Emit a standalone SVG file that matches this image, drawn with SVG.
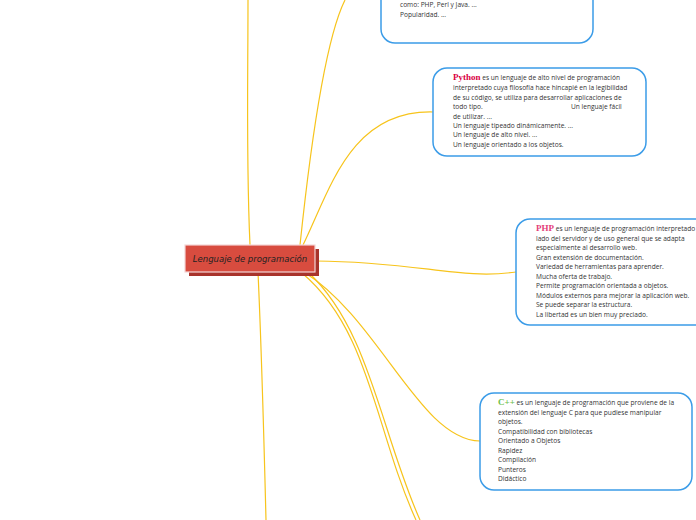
<svg xmlns="http://www.w3.org/2000/svg" width="696" height="520" viewBox="0 0 696 520">
<style>
.c{fill:none;stroke:#f7c41c;stroke-width:1.2}
.b{fill:#fff;stroke:#3b9ce8;stroke-width:1.5}
.t{font-family:"Open Sans","DejaVu Sans",sans-serif;font-size:6.6px;fill:#333}
.k{font-family:"Liberation Serif",serif;font-weight:bold;font-size:9px}
</style>
<rect width="696" height="520" fill="#fff"/>
<g id="connectors">
<path class="c" d="M250 245 C246 160 248 80 248 0"/>
<path class="c" d="M300 245 C310 150 325 40 345 0"/>
<path class="c" d="M303 245 C330 190 350 110 433 112"/>
<path class="c" d="M316 261 C420 262 460 280 516 272"/>
<path class="c" d="M304 272 C380 320 420 440 480 441"/>
<path class="c" d="M308 272 C370 330 380 430 420 520"/>
<path class="c" d="M302 273 C370 330 375 430 416 520"/>
<path class="c" d="M258 272 C262 360 264 440 266 520"/>
</g>
<g id="center">
<rect x="189" y="249" width="130" height="27" fill="#a8332b"/>
<rect x="185" y="245" width="130" height="27" fill="#d84c3f" stroke="#f4d6d6" stroke-width="1.2"/>
<text x="250" y="262" text-anchor="middle" font-family="'DejaVu Sans',sans-serif" font-style="italic" font-size="8.5" fill="#222">Lenguaje de programación</text>
</g>
<g id="top">
<rect class="b" x="381" y="-20" width="212" height="63" rx="14"/>
<text class="t" x="400" y="7">como: PHP, Perl y Java. ...</text>
<text class="t" x="400" y="17">Popularidad. ...</text>
</g>
<g id="python">
<rect class="b" x="433" y="68" width="213" height="88" rx="14"/>
<text class="t" x="453" y="80"><tspan class="k" fill="#d9003f">Python</tspan> es un lenguaje de alto nivel de programación</text>
<text class="t" x="453" y="90">interpretado cuya filosofía hace hincapié en la legibilidad</text>
<text class="t" x="453" y="100">de su código, se utiliza para desarrollar aplicaciones de</text>
<text class="t" x="453" y="109">todo tipo.<tspan x="571">Un lenguaje fácil</tspan></text>
<text class="t" x="453" y="119">de utilizar. ...</text>
<text class="t" x="453" y="128">Un lenguaje tipeado dinámicamente. ...</text>
<text class="t" x="453" y="137">Un lenguaje de alto nivel. ...</text>
<text class="t" x="453" y="147">Un lenguaje orientado a los objetos.</text>
</g>
<g id="php">
<rect class="b" x="516" y="219" width="195" height="106" rx="14"/>
<text class="t" x="536" y="231"><tspan class="k" fill="#e4407a">PHP</tspan> es un lenguaje de programación interpretado</text>
<text class="t" x="536" y="241">lado del servidor y de uso general que se adapta</text>
<text class="t" x="536" y="250">especialmente al desarrollo web.</text>
<text class="t" x="536" y="260">Gran extensión de documentación.</text>
<text class="t" x="536" y="269">Variedad de herramientas para aprender.</text>
<text class="t" x="536" y="279">Mucha oferta de trabajo.</text>
<text class="t" x="536" y="288">Permite programación orientada a objetos.</text>
<text class="t" x="536" y="298">Módulos externos para mejorar la aplicación web.</text>
<text class="t" x="536" y="307">Se puede separar la estructura.</text>
<text class="t" x="536" y="317">La libertad es un bien muy preciado.</text>
</g>
<g id="cpp">
<rect class="b" x="480" y="393" width="212" height="97" rx="14"/>
<text class="t" x="498" y="405"><tspan class="k" fill="#6cc04a">C++</tspan> es un lenguaje de programación que proviene de la</text>
<text class="t" x="498" y="415">extensión del lenguaje C para que pudiese manipular</text>
<text class="t" x="498" y="424">objetos.</text>
<text class="t" x="498" y="434">Compatibilidad con bibliotecas</text>
<text class="t" x="498" y="443">Orientado a Objetos</text>
<text class="t" x="498" y="453">Rapidez</text>
<text class="t" x="498" y="462">Compilación</text>
<text class="t" x="498" y="472">Punteros</text>
<text class="t" x="498" y="481">Didáctico</text>
</g>
</svg>
